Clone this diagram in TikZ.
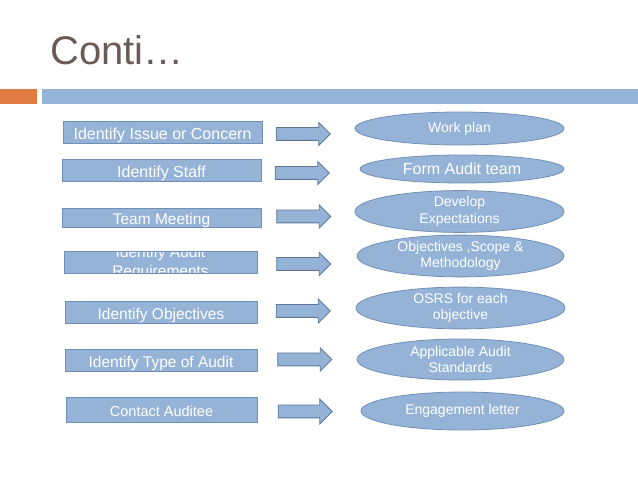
\documentclass[tikz,border=0pt]{standalone}
\usepackage{fontspec}
\setmainfont{Liberation Sans}
\usetikzlibrary{shapes.geometric,
  shapes.arrows}
\definecolor{barblue}{HTML}{95B3D7}
\definecolor{barorange}{HTML}{E07B42}
\definecolor{boxfill}{HTML}{95B3D7}
\definecolor{boxline}{HTML}{7190B8}
\definecolor{arrowline}{HTML}{5E7799}
\definecolor{titlegray}{HTML}{6B5B57}

\begin{document}
\begin{tikzpicture}[x=1pt,y=-1pt]
      \tikzstyle{stepbox}=[rectangle,draw=boxline,fill=boxfill,line width=0.8pt,minimum width=199pt,minimum height=22pt,inner sep=0pt,text=white,font=\fontsize{15.5}{19}\selectfont]
      \tikzstyle{oneline}=[stepbox,text height=14.6pt,text depth=0pt]
      \tikzstyle{goal}=[ellipse,draw=boxline,fill=boxfill,line width=0.8pt,minimum width=207pt,minimum height=34pt,inner sep=0pt,text=white,align=center,font=\fontsize{14}{16.5}\selectfont]
      \tikzstyle{leadsto}=[single arrow,draw=arrowline,fill=boxfill,line width=0.8pt,minimum height=54pt,single arrow head extend=5pt,single arrow head indent=0pt,inner xsep=0pt,inner ysep=6pt]
      \useasboundingbox (0,0) rectangle (638,478);
      % title and bar
      \node[anchor=base west,inner sep=0pt,text=titlegray,font=\fontsize{40}{46}\selectfont] (title) at (50,65) {Conti…};
      \fill[barorange] (0,89) rectangle (37,104);
      \fill[barblue] (41.5,89) rectangle (638,104);
      % steps
      \node[oneline,font=\fontsize{16}{19}\selectfont] (s_1) at (162.5,132.5) {Identify Issue or Concern};
      \node[oneline,font=\fontsize{16}{19}\selectfont] (s_2) at (161.5,170) {Identify Staff};
      \node[oneline,minimum height=19pt] (s_3) at (161.5,217.5) {Team Meeting};
      \node[stepbox,minimum width=193pt,path picture={
          \node[text=white,align=center,font=\fontsize{15.5}{19}\selectfont] at ([yshift=-0.5pt]path picture bounding box.center) {Identify Audit\\Requirements};}] (s_4) at (160.5,262) {};
      \node[oneline,minimum width=192pt] (s_5) at (161,312) {Identify Objectives};
      \node[oneline,minimum width=192pt] (s_6) at (161,360) {Identify Type of Audit};
      \node[oneline,minimum width=191pt,minimum height=25pt,font=\fontsize{14.5}{17}\selectfont] (s_7) at (161.5,409.5) {Contact Auditee};
      % arrows
      \node[leadsto] (a_1) at (300,134) {};
      \node[leadsto] (a_2) at (299,173) {};
      \node[leadsto] (a_3) at (300.5,216.5) {};
      \node[leadsto] (a_4) at (300.5,264) {};
      \node[leadsto,single arrow head extend=5.5pt] (a_5) at (300,311) {};
      \node[leadsto] (a_6) at (301.5,359.5) {};
      \node[leadsto,single arrow head extend=6pt] (a_7) at (302,411.5) {};
      % outcomes
      \node[goal,minimum width=209pt,minimum height=33pt] (o_1) at (459.5,128.5) {Work plan};
      \node[goal,minimum width=204pt,minimum height=28pt,font=\fontsize{16}{19}\selectfont] (o_2) at (462,169) {Form Audit team};
      \node[goal,minimum width=209pt,minimum height=31pt] (o_3) at (459.5,211.5) {Develop\\Expectations};
      \node[goal,minimum height=38pt] (o_4) at (460.5,256) {Objectives ,Scope \&\\Methodology};
      \node[goal,minimum width=209pt,minimum height=38pt] (o_5) at (460.5,308) {OSRS for each\\objective};
      \node[goal,minimum height=41pt] (o_6) at (460.5,359.5) {Applicable Audit\\Standards};
      \node[goal,minimum width=203pt,minimum height=38pt] (o_7) at (462.5,411) {Engagement letter};
\end{tikzpicture}
\end{document}
